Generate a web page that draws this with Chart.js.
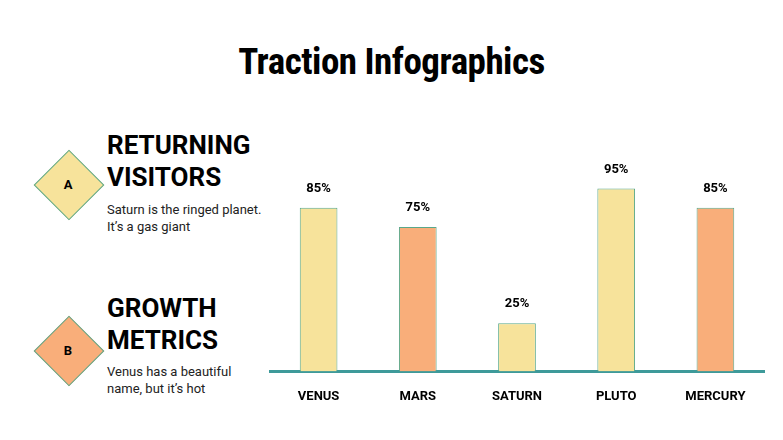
<!DOCTYPE html>
<html><head><meta charset="utf-8">
<script src="https://cdn.jsdelivr.net/npm/chart.js@4"></script>
<style>
body{margin:0;width:783px;height:440px;background:#fff;position:relative;overflow:hidden;font-family:"Fira Sans","Roboto",sans-serif}
h1{position:absolute;left:0;width:783px;top:40px;margin:0;text-align:center;font:bold 37px "Liberation Sans Narrow","Roboto Condensed",sans-serif;color:#000;letter-spacing:-0.5px}
.d{position:absolute;width:48px;height:48px;transform:rotate(45deg);border:1.5px solid #5aa88a}
.dl{position:absolute;width:60px;text-align:center;font:bold 13px Roboto,sans-serif}
.h{position:absolute;left:107px;font:bold 26px Roboto,sans-serif;line-height:32px;color:#000}
.p{position:absolute;left:107px;font:13px Roboto,sans-serif;line-height:17px;color:#222}
#wrap{position:absolute;left:269px;top:150px;width:496px;height:265px}
</style></head><body>
<h1>Traction Infographics</h1>
<div class="d" style="left:44px;top:160px;background:#f7e39b"></div><div class="dl" style="left:38px;top:177px">A</div>
<div class="d" style="left:44px;top:326px;background:#f9ae7a"></div><div class="dl" style="left:38px;top:343px">B</div>
<div class="h" style="top:129px">RETURNING<br>VISITORS</div>
<div class="p" style="top:201px">Saturn is the ringed planet.<br>It’s a gas giant</div>
<div class="h" style="top:292px">GROWTH<br>METRICS</div>
<div class="p" style="top:363px">Venus has a beautiful<br>name, but it’s hot</div>
<div id="wrap"><canvas id="c"></canvas></div>
<script>
const planets = ['VENUS', 'MARS', 'SATURN', 'PLUTO', 'MERCURY']
const values = [85, 75, 25, 95, 85]
const barColors = ['#f7e39b', '#f9ae7a', '#f7e39b', '#f7e39b', '#f9ae7a']

const valueLabels = {
  id: 'valueLabels',
  afterDatasetsDraw(chart) {
    const ctx = chart.ctx
    ctx.save()
    ctx.font = 'bold 13px Roboto, sans-serif'
    ctx.fillStyle = '#000'
    ctx.textAlign = 'center'
    chart.getDatasetMeta(0).data.forEach((bar, i) => {
      ctx.fillText(values[i] + '%', bar.x, bar.y - 16)
    })
    ctx.restore()
  }
}

new Chart(document.getElementById('c'), {
  type: 'bar',
  data: {
    labels: planets,
    datasets: [{
      data: values,
      backgroundColor: barColors,
      borderColor: '#5aa88a',
      borderWidth: 1,
      barPercentage: 0.38,
      categoryPercentage: 1
    }]
  },
  options: {
    responsive: true,
    maintainAspectRatio: false,
    animation: false,
    layout: { padding: { top: 29 } },
    plugins: { legend: { display: false }, tooltip: { enabled: false } },
    scales: {
      y: { min: 0, max: 100, display: false },
      x: {
        grid: { display: false },
        border: { color: '#3e9a9a', width: 3 },
        ticks: { color: '#000', font: { weight: 'bold', size: 13, family: 'Roboto' }, padding: 10 }
      }
    }
  },
  plugins: [valueLabels]
})
</script>
</body></html>
